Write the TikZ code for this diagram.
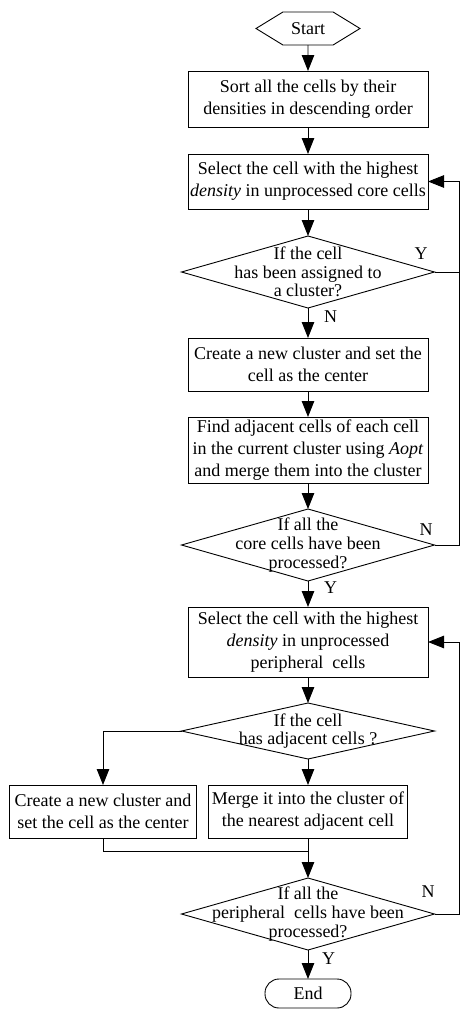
\documentclass[tikz,border=0pt]{standalone}
\usepackage{fontspec}
\setmainfont{Liberation Serif}
\usetikzlibrary{positioning, shapes.geometric, shapes.symbols, arrows.meta}

\begin{document}
\begin{tikzpicture}[every node/.style = {font = \fontsize{18pt}{22pt}\selectfont, outer sep = 0pt},
    process/.style = {draw, rectangle, line width = 0.9pt, align = center, inner xsep = 1pt, inner ysep = 1pt, minimum width = 240pt},
    decision/.style = {draw, diamond, aspect = 3.5, line width = 0.9pt, align = center, font = \fontsize{18pt}{18.7pt}\selectfont, inner xsep = 0pt, inner ysep = -30pt, minimum width = 253pt, minimum height = 72pt},
    terminal/.style = {draw, line width = 0.9pt, inner sep = 0pt},
    lbl/.style = {inner sep = 2pt},
    line/.style = {draw, line width = 0.9pt},
    arrow/.style = {line, -{Triangle[width = 12.5pt, length = 16pt]}}]
    \useasboundingbox (0pt, 0pt) rectangle (474pt, -1017pt);
    % core cells
    \node[terminal, signal, signal to = west and east, signal pointer angle = 63, minimum width = 104pt, minimum height = 33pt] (start) at (308pt, -28.5pt) {Start};
    \node[process, minimum height = 56pt, below = 26pt of start] (sort) {Sort all the cells by their\\densities in descending order};
    \node[process, minimum height = 55pt, below = 27pt of sort] (selcore) {Select the cell with the highest\\\textit{density} in unprocessed core cells};
    \node[decision, below = 27pt of selcore] (assigned) {If the cell\\has been assigned to\\a cluster?};
    \node[process, minimum height = 53pt, below = 30pt of assigned] (newcore) {Create a new cluster and set the\\cell as the center};
    \node[process, minimum height = 66pt, below = 26pt of newcore] (findadj) {Find adjacent cells of each cell\\in the current cluster using \textit{Aopt}\\and merge them into the cluster};
    \node[decision, below = 26pt of findadj] (allcore) {If all the\\core cells have been\\processed?};
    % peripheral cells
    \node[process, minimum height = 70pt, below = 26pt of allcore] (selperi) {Select the cell with the highest\\\textit{density} in unprocessed\\peripheral~ cells};
    \node[decision, minimum height = 56pt, below = 26pt of selperi] (hasadj) {If the cell\\has adjacent cells ?};
    \node[process, minimum width = 199pt, minimum height = 53pt, below = 26pt of hasadj] (mergeit) {Merge it into the cluster of\\the nearest adjacent cell};
    \node[process, minimum width = 187pt, minimum height = 53pt, left = 12pt of mergeit] (newperi) {Create a new cluster and\\set the cell as the center};
    \node[decision, below = 40pt of mergeit] (allperi) {If all the\\peripheral~ cells have been\\processed?};
    \node[terminal, rectangle, rounded corners = 14pt, minimum width = 86pt, minimum height = 29pt, below = 29pt of allperi] (end) {End};
    \coordinate (join) at ([yshift = -13pt] mergeit.south);

    \draw[arrow] (start) -- (sort);
    \draw[arrow] (sort) -- (selcore);
    \draw[arrow] (selcore) -- (assigned);
    \draw[arrow] (assigned) -- node[lbl, right = 14pt, pos = 0.3] {N} (newcore);
    \draw[line] (assigned.east) node[lbl, above left, xshift = -5pt, yshift = 11pt] {Y} -- ++(25pt, 0);
    \draw[arrow] (newcore) -- (findadj);
    \draw[arrow] (findadj) -- (allcore);
    \draw[arrow] (allcore.east) node[lbl, above left, yshift = 8pt] {N} -- ++(25pt, 0) |- (selcore.east);
    \draw[arrow] (allcore) -- node[lbl, right = 14pt, pos = 0.25] {Y} (selperi);
    \draw[arrow] (selperi) -- (hasadj);
    \draw[arrow] (hasadj.west) -| (newperi.north);
    \draw[arrow] (hasadj) -- (mergeit);
    \draw[line] (newperi.south) |- (join);
    \draw[arrow] (mergeit) -- (allperi);
    \draw[arrow] (allperi.east) node[lbl, above left, xshift = 2pt, yshift = 15pt] {N} -- ++(25pt, 0) |- (selperi.east);
    \draw[arrow] (allperi) -- node[lbl, right = 12pt, pos = 0.3] {Y} (end);
\end{tikzpicture}
\end{document}
